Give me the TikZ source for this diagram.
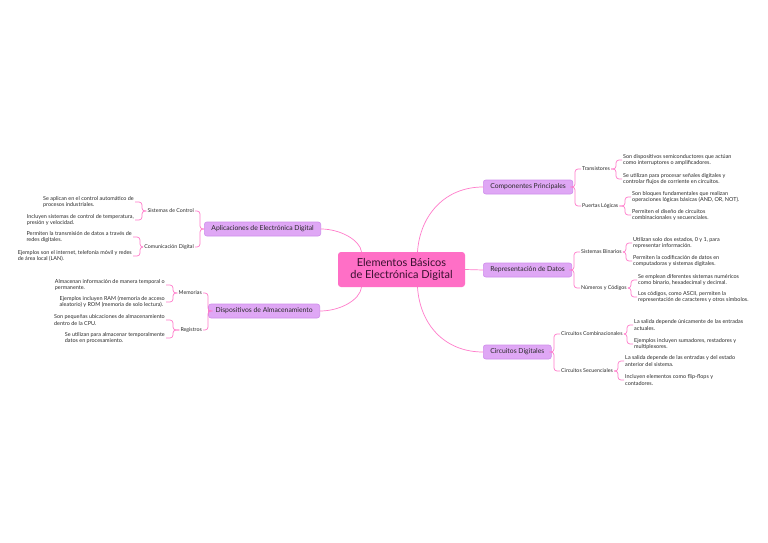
\documentclass[tikz,border=0pt]{standalone}
\usepackage{fontspec}
\setmainfont{Lato}
\usetikzlibrary{calc}
\definecolor{rootpink}{HTML}{FF6FC6}
\definecolor{lav}{HTML}{DFA7F5}
\definecolor{lavdark}{HTML}{CF8EEC}
\definecolor{linkpink}{HTML}{FF7CCB}
\definecolor{txtdark}{HTML}{2A2A2A}
\definecolor{titletxt}{HTML}{3A1030}
\tikzset{
  rootbox/.style={rectangle,rounded corners=3pt,fill=rootpink,minimum width=127pt,minimum height=35pt,align=center,font=\fontsize{11}{12.5}\selectfont,text=titletxt},
  topic/.style={rectangle,rounded corners=2.5pt,fill=lav,draw=lavdark,line width=0.6pt,minimum height=14pt,inner xsep=7pt,font=\fontsize{6.8}{7.5}\selectfont,text=txtdark},
  sub/.style={inner sep=1pt,font=\fontsize{5.3}{6}\selectfont,text=txtdark},
  leafr/.style={inner sep=1pt,align=left,anchor=west,font=\fontsize{5.45}{6.3}\selectfont,text=txtdark},
  leafl/.style={leafr,anchor=east},
  link/.style={draw=linkpink,line width=0.7pt},
  brk/.style={link,rounded corners=3pt}
}
\begin{document}
\begin{tikzpicture}[x=1pt,y=-1pt]
  \useasboundingbox[fill=white] (0,0) rectangle (768,543);

  \node[rootbox] (root) at (401.5,269.5) {Elementos Básicos\\de Electrónica Digital};

  % right branches
  \node[topic,anchor=west] (comp) at (483,187) {Componentes Principales};
  \node[topic,anchor=west] (repr) at (483,270) {Representación de Datos};
  \node[topic,anchor=west] (circ) at (483,352) {Circuitos Digitales};

  \node[sub,anchor=west] (tr) at (581,169) {Transistores};
  \node[sub,anchor=west] (pl) at (581,206) {Puertas Lógicas};
  \node[sub,anchor=west] (sb) at (580,252) {Sistemas Binarios};
  \node[sub,anchor=west] (nc) at (580,288) {Números y Códigos};
  \node[sub,anchor=west] (cc) at (560,334) {Circuitos Combinacionales};
  \node[sub,anchor=west] (cs) at (560,371) {Circuitos Secuenciales};

  \node[leafr] (tr1) at (622,160) {Son dispositivos semiconductores que actúan\\como interruptores o amplificadores.};
  \node[leafr] (tr2) at (622,179) {Se utilizan para procesar señales digitales y\\controlar flujos de corriente en circuitos.};
  \node[leafr] (pl1) at (631,197) {Son bloques fundamentales que realizan\\operaciones lógicas básicas (AND, OR, NOT).};
  \node[leafr] (pl2) at (631,215) {Permiten el diseño de circuitos\\combinacionales y secuenciales.};
  \node[leafr] (sb1) at (632,243) {Utilizan solo dos estados, 0 y 1, para\\representar información.};
  \node[leafr] (sb2) at (632,261) {Permiten la codificación de datos en\\computadoras y sistemas digitales.};
  \node[leafr] (nc1) at (637,280) {Se emplean diferentes sistemas numéricos\\como binario, hexadecimal y decimal.};
  \node[leafr] (nc2) at (637,297) {Los códigos, como ASCII, permiten la\\representación de caracteres y otros símbolos.};
  \node[leafr] (cc1) at (633,325) {La salida depende únicamente de las entradas\\actuales.};
  \node[leafr] (cc2) at (633,344) {Ejemplos incluyen sumadores, restadores y\\multiplexores.};
  \node[leafr] (cs1) at (624,361) {La salida depende de las entradas y del estado\\anterior del sistema.};
  \node[leafr] (cs2) at (624,380) {Incluyen elementos como flip-flops y\\contadores.};

  % left branches
  \node[topic,anchor=east] (apli) at (321,229) {Aplicaciones de Electrónica Digital};
  \node[topic,anchor=east] (disp) at (320,311) {Dispositivos de Almacenamiento};

  \node[sub,anchor=east] (sc) at (195,211) {Sistemas de Control};
  \node[sub,anchor=east] (cd) at (195,247) {Comunicación Digital};
  \node[sub,anchor=east] (mem) at (203,293) {Memorias};
  \node[sub,anchor=east] (reg) at (203,330) {Registros};

  \node[leafl] (sc1) at (135,202) {Se aplican en el control automático de\\procesos industriales.};
  \node[leafl] (sc2) at (135,220) {Incluyen sistemas de control de temperatura,\\presión y velocidad.};
  \node[leafl] (cd1) at (133,237) {Permiten la transmisión de datos a través de\\redes digitales.};
  \node[leafl] (cd2) at (133,256) {Ejemplos son el internet, telefonía móvil y redes\\de área local (LAN).};
  \node[leafl] (mem1) at (166,285) {Almacenan información de manera temporal o\\permanente.};
  \node[leafl] (mem2) at (166,302) {Ejemplos incluyen RAM (memoria de acceso\\aleatorio) y ROM (memoria de solo lectura).};
  \node[leafl] (reg1) at (166,320) {Son pequeñas ubicaciones de almacenamiento\\dentro de la CPU.};
  \node[leafl] (reg2) at (166,338) {Se utilizan para almacenar temporalmente\\datos en procesamiento.};

  % root links
  \draw[link] ([xshift=16pt]root.north) .. controls (420,215) and (445,187) .. (comp.west);
  \draw[link] (root.east) -- (repr.west);
  \draw[link] ([xshift=16pt]root.south) .. controls (420,325) and (445,352) .. (circ.west);
  \draw[link] ([xshift=-40pt]root.north) .. controls (360,240) and (340,229) .. (apli.east);
  \draw[link] ([xshift=-40pt]root.south) .. controls (360,300) and (340,311) .. (disp.east);

  % topic brackets
  \foreach \c/\p in {tr/comp,pl/comp,sb/repr,nc/repr,cc/circ,cs/circ}
    \draw[brk] (\c.west) -- ++(-6,0) |- (\p.east);
  \foreach \c/\p in {sc/apli,cd/apli,mem/disp,reg/disp}
    \draw[brk] (\c.east) -- ++(5,0) |- (\p.west);

  % leaf brackets
  \foreach \l/\s in {tr1/tr,tr2/tr,pl1/pl,pl2/pl,sb1/sb,sb2/sb,nc1/nc,nc2/nc,cc1/cc,cc2/cc,cs1/cs,cs2/cs}
    \draw[brk] (\l.west) -- ++(-6,0) |- (\s.east);
  \foreach \l/\s in {sc1/sc,sc2/sc,cd1/cd,cd2/cd,mem1/mem,mem2/mem,reg1/reg,reg2/reg}
    \draw[brk] (\l.east) -- ++(7,0) |- (\s.west);
\end{tikzpicture}
\end{document}
